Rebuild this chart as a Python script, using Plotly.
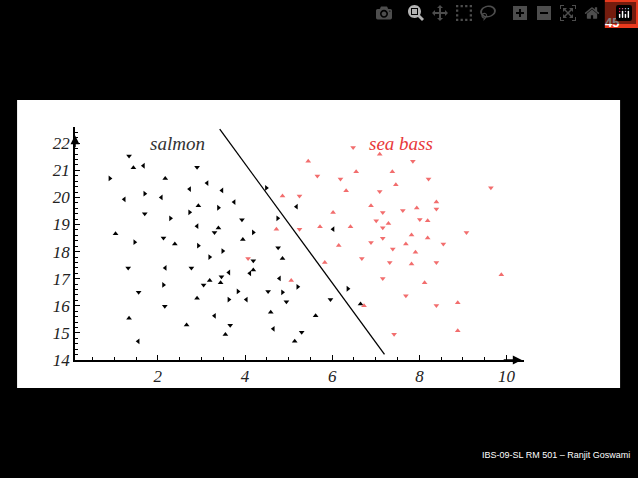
import plotly.graph_objects as go

# salmon (black) points: lightness, width
salmon_x = [1.34, 1.44, 1.67, 0.9, 1.32, 1.03, 1.23, 1.47, 1.56, 1.34, 1.55, 1.7, 1.7,
            2.17, 2.08, 2.29, 2.13, 2.39, 2.17, 2.13, 2.16, 2.66, 2.73, 2.73, 2.9, 2.93,
            2.9, 2.93, 2.77, 2.9, 3.13, 3.19, 3.05, 3.19, 3.3, 3.39, 3.3, 3.39, 3.47, 3.49,
            3.46, 3.44, 3.63, 3.63, 3.66, 3.55, 3.75, 3.84, 3.93, 3.95, 4.03, 4.19, 4.19,
            4.19, 4.11, 4.49, 4.53, 4.59, 4.65, 4.75, 4.76, 4.86, 4.79, 4.86, 4.95, 5.14,
            5.18, 5.21, 5.3, 5.62, 6.02, 6.36, 5.96, 6.65]
salmon_y = [21.53, 21.1, 21.17, 20.7, 17.4, 18.66, 19.93, 18.35, 16.5, 15.54, 14.69, 20.14, 19.4,
            20.7, 20.0, 19.23, 18.5, 18.28, 17.4, 16.77, 15.98, 15.29, 20.31, 19.45, 21.11, 19.69,
            18.94, 18.22, 17.4, 16.28, 20.53, 17.8, 16.77, 16.93, 15.63, 19.62, 18.71, 18.87, 20.26, 18.02,
            17.07, 16.85, 17.23, 16.23, 15.28, 14.94, 19.83, 16.53, 19.18, 18.45, 16.23, 18.71, 17.66,
            17.32, 17.2, 20.35, 16.53, 15.76, 15.15, 19.23, 18.14, 17.75, 17.01, 16.5, 16.15, 14.69,
            19.66, 16.7, 15.02, 15.63, 18.83, 16.63, 16.23, 16.07]

# sea bass (red) points
bass_x = [5.45, 5.66, 4.86, 5.25, 4.72, 5.25, 5.72, 4.07, 5.06, 6.48, 7.09, 7.85, 6.55,
          6.19, 7.38, 8.21, 6.32, 7.09, 7.46, 9.64, 8.39, 8.39, 6.89, 7.62, 7.94, 7.16,
          6.02, 7.01, 7.29, 8.01, 8.19, 7.16, 6.42, 9.08, 7.82, 7.16, 8.19, 6.89, 7.69,
          8.55, 6.15, 7.39, 7.91, 6.68, 5.83, 7.32, 7.82, 8.39, 9.88, 7.16, 8.12, 7.69,
          6.73, 8.39, 8.88, 7.42, 8.88]
bass_y = [21.34, 20.79, 20.05, 20.05, 18.83, 18.83, 18.92, 17.75, 16.93, 21.84, 21.59, 21.34, 20.95,
          20.68, 20.95, 20.68, 20.25, 20.22, 20.47, 20.36, 19.83, 19.57, 19.69, 19.52, 19.61, 19.44,
          19.44, 19.14, 19.04, 19.19, 19.14, 18.88, 18.92, 18.71, 18.61, 18.49, 18.5, 18.34, 18.28,
          18.28, 18.23, 18.1, 17.98, 17.75, 17.6, 17.6, 17.54, 17.6, 17.15, 17.01, 16.85, 16.37,
          16.0, 16.01, 16.11, 14.95, 15.08]

# decision boundary end points
boundary_x = [3.42, 7.2]
boundary_y = [22.52, 14.21]

x_ticks = [2, 4, 6, 8, 10]
y_ticks = [14, 15, 16, 17, 18, 19, 20, 21, 22]

SERIF = "Liberation Serif"
RED = "#f26d6d"
symbols = ["triangle-down", "triangle-up", "triangle-left", "triangle-right"]

fig = go.Figure()
fig.add_trace(go.Scatter(
    x=boundary_x, y=boundary_y, mode="lines",
    line={"color": "black", "width": 1.3}, hoverinfo="skip", showlegend=False,
))
fig.add_trace(go.Scatter(
    x=salmon_x, y=salmon_y, mode="markers", showlegend=False,
    marker={"color": "black", "size": 5,
            "symbol": [symbols[i % 4] for i in range(len(salmon_x))]},
))
fig.add_trace(go.Scatter(
    x=bass_x, y=bass_y, mode="markers", showlegend=False,
    marker={"color": RED, "size": 5,
            "symbol": [symbols[(i + 1) % 2] for i in range(len(bass_x))]},
))

# white chart panel on black slide
fig.add_shape(type="rect", xref="paper", yref="paper", x0=-0.129, x1=1.214, y0=-0.12, y1=1.116,
              fillcolor="white", line={"width": 0}, layer="below")
# slide number box
fig.add_shape(type="rect", xref="paper", yref="paper", x0=1.18, x1=1.26, y0=1.425, y1=1.56,
              fillcolor="#e8391d", line={"width": 0})
fig.add_annotation(xref="paper", yref="paper", x=1.217, y=1.49, text="<b>45</b>", showarrow=False,
                   font={"color": "white", "size": 13, "family": "Liberation Sans"})
fig.add_annotation(xref="paper", yref="paper", x=1.24, y=-0.438, xanchor="right",
                   text="IBS-09-SL RM 501 – Ranjit Goswami", showarrow=False,
                   font={"color": "white", "size": 9, "family": "Liberation Sans"})

# axis arrows and labels
fig.add_annotation(x=10.35, y=14, ax=9.9, ay=14, xref="x", yref="y", axref="x", ayref="y",
                   text="", showarrow=True, arrowhead=2, arrowsize=1.2, arrowwidth=1.5,
                   arrowcolor="black")
fig.add_annotation(x=0.1, y=22.3, ax=0.1, ay=21.8, xref="x", yref="y", axref="x", ayref="y",
                   text="", showarrow=True, arrowhead=2, arrowsize=1.2, arrowwidth=1.5,
                   arrowcolor="black")
fig.add_annotation(x=10.5, y=14, xanchor="left", text="<i>lightness</i>", showarrow=False,
                   font={"family": SERIF, "size": 15, "color": "black"})
fig.add_annotation(x=0.1, y=22.9, xanchor="right", text="<i>width</i>", showarrow=False,
                   font={"family": SERIF, "size": 14, "color": "black"})
fig.add_annotation(x=2.45, y=22.0, text="<i>salmon</i>", showarrow=False,
                   font={"family": SERIF, "size": 19, "color": "#333333"})
fig.add_annotation(x=7.57, y=22.0, text="<i>sea bass</i>", showarrow=False,
                   font={"family": SERIF, "size": 19, "color": "#e8383a"})

tickfont = {"family": SERIF, "size": 17, "color": "#222222", "style": "italic"}
fig.update_layout(
    width=638, height=478,
    paper_bgcolor="black", plot_bgcolor="white",
    margin={"l": 75, "r": 114, "t": 127, "b": 118},
    xaxis={"range": [0.1, 10.4], "tickvals": x_ticks, "showgrid": False, "zeroline": False,
           "showline": True, "linecolor": "black", "linewidth": 1.5,
           "ticks": "inside", "ticklen": 5, "tickcolor": "black", "tickfont": tickfont,
           "minor": {"dtick": 0.5, "ticks": "inside", "ticklen": 3, "tickcolor": "black"}},
    yaxis={"range": [14, 22.6], "tickvals": y_ticks, "showgrid": False, "zeroline": False,
           "showline": True, "linecolor": "black", "linewidth": 1.5,
           "ticks": "inside", "ticklen": 5, "tickcolor": "black", "tickfont": tickfont,
           "minor": {"dtick": 0.2, "ticks": "inside", "ticklen": 3, "tickcolor": "black"}},
)

fig.write_html(
    "out.html",
    post_script="document.body.style.margin='0';document.body.style.background='black';",
)
